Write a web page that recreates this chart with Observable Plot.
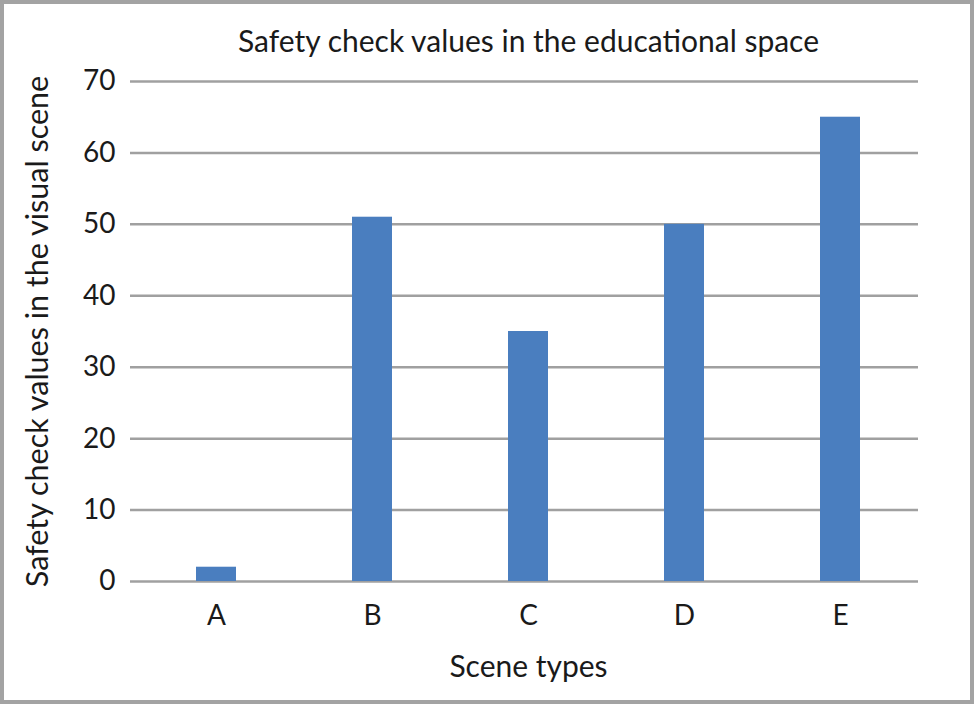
<!DOCTYPE html>
<html>
<head>
<meta charset="utf-8">
<script src="https://cdn.jsdelivr.net/npm/d3@7"></script>
<script src="https://cdn.jsdelivr.net/npm/@observablehq/plot@0.6"></script>
<style>
  html, body { margin: 0; padding: 0; background: #fff; }
  #wrap { position: relative; width: 974px; height: 704px; }
  #border { position: absolute; left: 0; top: 0; width: 974px; height: 704px; box-sizing: border-box; border: 4px solid #a3a3a3; pointer-events: none; }
</style>
</head>
<body>
<div id="wrap"><div id="border"></div></div>
<script>
const categories = ["A", "B", "C", "D", "E"];
const values = [2, 51, 35, 50, 65];
const yTicks = [0, 10, 20, 30, 40, 50, 60, 70];
const title = "Safety check values in the educational space";
const xLabel = "Scene types";
const yLabel = "Safety check values in the visual scene";

const data = categories.map((c, i) => ({category: c, value: values[i]}));
const font = "Lato, 'Open Sans', sans-serif";
const grid = "#a0a0a0";

const chart = Plot.plot({
  width: 974,
  height: 704,
  marginLeft: 138,
  marginRight: 56,
  marginTop: 81,
  marginBottom: 123,
  style: {fontFamily: font, fontSize: "28px", color: "#1a1a1a", background: "transparent"},
  x: {domain: categories, paddingInner: 0.745, paddingOuter: 0.3725, label: null},
  y: {domain: [0, 70], ticks: yTicks, label: null},
  marks: [
    Plot.ruleY(yTicks, {stroke: grid, strokeWidth: 2.5, insetLeft: -8}),
    Plot.ruleX([0], {frameAnchor: "left", stroke: grid, strokeWidth: 2.5}),
    Plot.barY(data, {x: "category", y: "value", fill: "#4a7ebf"}),
    Plot.axisY({ticks: yTicks, tickSize: 0, tickPadding: 23, fontSize: 28}),
    Plot.axisX({tickSize: 0, tickPadding: 24, fontSize: 28}),
    Plot.text([title], {frameAnchor: "top", dy: -30, fontSize: 30, lineAnchor: "bottom"}),
    Plot.text([xLabel], {frameAnchor: "bottom", dy: 95, fontSize: 30, lineAnchor: "bottom"}),
    Plot.text([yLabel], {frameAnchor: "left", dx: -100, rotate: -90, fontSize: 30.5, textAnchor: "middle", lineAnchor: "middle"})
  ]
});
document.getElementById("wrap").insertBefore(chart, document.getElementById("border"));
</script>
</body>
</html>
